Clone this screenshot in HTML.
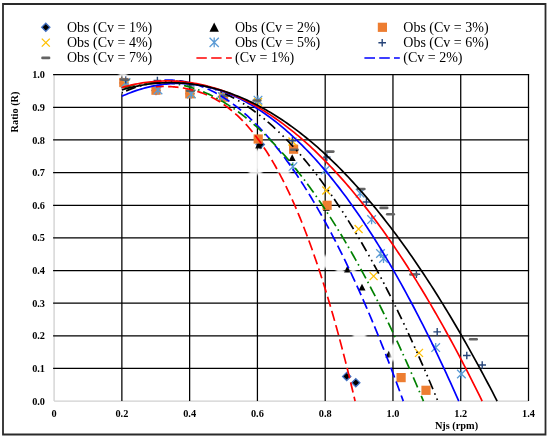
<!DOCTYPE html>
<html><head><meta charset="utf-8"><style>
html,body{margin:0;padding:0;background:#fff;}
svg{display:block;}
text{font-family:"Liberation Serif","Times New Roman",serif;}
.t{font-size:10.3px;font-weight:bold;fill:#000;}
.lg{font-size:14px;fill:#000;}
</style></head><body>
<svg width="550" height="438" viewBox="0 0 550 438">
<defs><filter id="wb" x="-50%" y="-50%" width="200%" height="200%"><feGaussianBlur stdDeviation="1"/></filter></defs>
<rect x="0" y="0" width="550" height="438" fill="#fff"/>
<path d="M3,4H545.5V434.5H3Z" fill="none" stroke="#2a2a2a" stroke-width="1.8"/>
<line x1="54.1" y1="74.70" x2="54.1" y2="401.1" stroke="#d9d9d9" stroke-width="1.6"/>
<line x1="54.1" y1="401.1" x2="528.50" y2="401.1" stroke="#d0d0d0" stroke-width="1.4"/>
<path d="M53.1,368.46H529.20M53.1,335.82H529.20M53.1,303.18H529.20M53.1,270.54H529.20M53.1,237.90H529.20M53.1,205.26H529.20M53.1,172.62H529.20M53.1,139.98H529.20M53.1,107.34H529.20M53.1,74.70H529.20M121.87,74.00V401.10M189.64,74.00V401.10M257.42,74.00V401.10M325.19,74.00V401.10M392.96,74.00V401.10M460.73,74.00V401.10M528.50,74.00V401.10" stroke="#000" stroke-width="1.25" fill="none"/>
<text class="t" x="45" y="404.6" text-anchor="end">0.0</text>
<text class="t" x="45" y="372.0" text-anchor="end">0.1</text>
<text class="t" x="45" y="339.3" text-anchor="end">0.2</text>
<text class="t" x="45" y="306.7" text-anchor="end">0.3</text>
<text class="t" x="45" y="274.0" text-anchor="end">0.4</text>
<text class="t" x="45" y="241.4" text-anchor="end">0.5</text>
<text class="t" x="45" y="208.8" text-anchor="end">0.6</text>
<text class="t" x="45" y="176.1" text-anchor="end">0.7</text>
<text class="t" x="45" y="143.5" text-anchor="end">0.8</text>
<text class="t" x="45" y="110.8" text-anchor="end">0.9</text>
<text class="t" x="45" y="78.2" text-anchor="end">1.0</text>
<text class="t" x="54.1" y="417" text-anchor="middle">0</text>
<text class="t" x="121.9" y="417" text-anchor="middle">0.2</text>
<text class="t" x="189.6" y="417" text-anchor="middle">0.4</text>
<text class="t" x="257.4" y="417" text-anchor="middle">0.6</text>
<text class="t" x="325.2" y="417" text-anchor="middle">0.8</text>
<text class="t" x="393.0" y="417" text-anchor="middle">1.0</text>
<text class="t" x="460.7" y="417" text-anchor="middle">1.2</text>
<text class="t" x="528.5" y="417" text-anchor="middle">1.4</text>
<text class="t" x="456.5" y="429" text-anchor="middle">Njs (rpm)</text>
<text class="t" transform="translate(18.4,112) rotate(-90)" text-anchor="middle">Ratio (R)</text>
<path d="M124.0,78.9L128.1,83.0L124.0,87.1L119.9,83.0Z" fill="#000" stroke="#4472c4" stroke-width="1.3"/><path d="M156.0,86.4L160.1,90.5L156.0,94.6L151.9,90.5Z" fill="#000" stroke="#4472c4" stroke-width="1.3"/><path d="M190.0,89.7L194.1,93.8L190.0,97.9L185.9,93.8Z" fill="#000" stroke="#4472c4" stroke-width="1.3"/><path d="M222.5,92.7L226.6,96.8L222.5,100.9L218.4,96.8Z" fill="#000" stroke="#4472c4" stroke-width="1.3"/><path d="M260.3,140.4L264.4,144.5L260.3,148.6L256.2,144.5Z" fill="#000" stroke="#4472c4" stroke-width="1.3"/><path d="M346.7,372.3L350.8,376.4L346.7,380.5L342.6,376.4Z" fill="#000" stroke="#4472c4" stroke-width="1.3"/><path d="M355.8,378.6L359.9,382.7L355.8,386.8L351.7,382.7Z" fill="#000" stroke="#4472c4" stroke-width="1.3"/><path d="M124.0,80.5L127.5,87.3L120.5,87.3Z" fill="#000"/><path d="M156.0,86.5L159.5,93.3L152.5,93.3Z" fill="#000"/><path d="M190.0,90.5L193.5,97.3L186.5,97.3Z" fill="#000"/><path d="M223.0,93.0L226.5,99.8L219.5,99.8Z" fill="#000"/><path d="M258.6,141.7L262.1,148.5L255.1,148.5Z" fill="#000"/><path d="M292.2,154.3L295.7,161.1L288.7,161.1Z" fill="#000"/><path d="M326.3,204.0L329.8,210.8L322.8,210.8Z" fill="#000"/><path d="M347.4,265.8L350.9,272.6L343.9,272.6Z" fill="#000"/><path d="M362.0,283.8L365.5,290.6L358.5,290.6Z" fill="#000"/><path d="M388.8,350.7L392.3,357.5L385.3,357.5Z" fill="#000"/><rect x="119.2" y="77.9" width="9.2" height="9.2" fill="#ed7d31"/><rect x="151.4" y="85.6" width="9.2" height="9.2" fill="#ed7d31"/><rect x="185.2" y="89.2" width="9.2" height="9.2" fill="#ed7d31"/><rect x="218.9" y="92.6" width="9.2" height="9.2" fill="#ed7d31"/><rect x="253.6" y="134.4" width="9.2" height="9.2" fill="#ed7d31"/><rect x="289.0" y="144.6" width="9.2" height="9.2" fill="#ed7d31"/><rect x="322.5" y="200.7" width="9.2" height="9.2" fill="#ed7d31"/><rect x="396.5" y="373.0" width="9.2" height="9.2" fill="#ed7d31"/><rect x="421.4" y="385.7" width="9.2" height="9.2" fill="#ed7d31"/><path d="M122.0,79.0L130.0,87.0M130.0,79.0L122.0,87.0" stroke="#ffc000" stroke-width="1.3" fill="none"/><path d="M187.3,90.0L195.3,98.0M195.3,90.0L187.3,98.0" stroke="#ffc000" stroke-width="1.3" fill="none"/><path d="M218.4,92.6L226.4,100.6M226.4,92.6L218.4,100.6" stroke="#ffc000" stroke-width="1.3" fill="none"/><path d="M254.0,98.0L262.0,106.0M262.0,98.0L254.0,106.0" stroke="#ffc000" stroke-width="1.3" fill="none"/><path d="M288.5,137.5L296.5,145.5M296.5,137.5L288.5,145.5" stroke="#ffc000" stroke-width="1.3" fill="none"/><path d="M322.3,186.5L330.3,194.5M330.3,186.5L322.3,194.5" stroke="#ffc000" stroke-width="1.3" fill="none"/><path d="M354.6,225.0L362.6,233.0M362.6,225.0L354.6,233.0" stroke="#ffc000" stroke-width="1.3" fill="none"/><path d="M369.6,272.1L377.6,280.1M377.6,272.1L369.6,280.1" stroke="#ffc000" stroke-width="1.3" fill="none"/><path d="M415.0,348.9L423.0,356.9M423.0,348.9L415.0,356.9" stroke="#ffc000" stroke-width="1.3" fill="none"/><path d="M121.7,78.2L130.3,86.8M130.3,78.2L121.7,86.8M126.0,77.9L126.0,87.1" stroke="#5b9bd5" stroke-width="1.3" fill="none"/><path d="M153.7,85.7L162.3,94.3M162.3,85.7L153.7,94.3M158.0,85.4L158.0,94.6" stroke="#5b9bd5" stroke-width="1.3" fill="none"/><path d="M187.0,89.7L195.6,98.3M195.6,89.7L187.0,98.3M191.3,89.4L191.3,98.6" stroke="#5b9bd5" stroke-width="1.3" fill="none"/><path d="M218.1,92.3L226.7,100.9M226.7,92.3L218.1,100.9M222.4,92.0L222.4,101.2" stroke="#5b9bd5" stroke-width="1.3" fill="none"/><path d="M253.7,95.9L262.3,104.5M262.3,95.9L253.7,104.5M258.0,95.6L258.0,104.8" stroke="#5b9bd5" stroke-width="1.3" fill="none"/><path d="M288.6,162.4L297.2,171.0M297.2,162.4L288.6,171.0M292.9,162.1L292.9,171.3" stroke="#5b9bd5" stroke-width="1.3" fill="none"/><path d="M321.1,165.7L329.7,174.3M329.7,165.7L321.1,174.3M325.4,165.4L325.4,174.6" stroke="#5b9bd5" stroke-width="1.3" fill="none"/><path d="M355.8,188.9L364.4,197.5M364.4,188.9L355.8,197.5M360.1,188.6L360.1,197.8" stroke="#5b9bd5" stroke-width="1.3" fill="none"/><path d="M367.3,215.3L375.9,223.9M375.9,215.3L367.3,223.9M371.6,215.0L371.6,224.2" stroke="#5b9bd5" stroke-width="1.3" fill="none"/><path d="M376.2,249.2L384.8,257.8M384.8,249.2L376.2,257.8M380.5,248.9L380.5,258.1" stroke="#5b9bd5" stroke-width="1.3" fill="none"/><path d="M379.2,254.2L387.8,262.8M387.8,254.2L379.2,262.8M383.5,253.9L383.5,263.1" stroke="#5b9bd5" stroke-width="1.3" fill="none"/><path d="M431.4,343.3L440.0,351.9M440.0,343.3L431.4,351.9M435.7,343.0L435.7,352.2" stroke="#5b9bd5" stroke-width="1.3" fill="none"/><path d="M457.1,369.7L465.7,378.3M465.7,369.7L457.1,378.3M461.4,369.4L461.4,378.6" stroke="#5b9bd5" stroke-width="1.3" fill="none"/><path d="M121.9,79.8L129.5,79.8M125.7,76.0L125.7,83.6" stroke="#264478" stroke-width="1.4" fill="none"/><path d="M153.6,80.5L161.2,80.5M157.4,76.7L157.4,84.3" stroke="#264478" stroke-width="1.4" fill="none"/><path d="M187.0,85.9L194.6,85.9M190.8,82.1L190.8,89.7" stroke="#264478" stroke-width="1.4" fill="none"/><path d="M288.6,140.7L296.2,140.7M292.4,136.9L292.4,144.5" stroke="#264478" stroke-width="1.4" fill="none"/><path d="M323.0,157.1L330.6,157.1M326.8,153.3L326.8,160.9" stroke="#264478" stroke-width="1.4" fill="none"/><path d="M362.6,202.0L370.2,202.0M366.4,198.2L366.4,205.8" stroke="#264478" stroke-width="1.4" fill="none"/><path d="M412.6,274.2L420.2,274.2M416.4,270.4L416.4,278.0" stroke="#264478" stroke-width="1.4" fill="none"/><path d="M433.4,331.9L441.0,331.9M437.2,328.1L437.2,335.7" stroke="#264478" stroke-width="1.4" fill="none"/><path d="M463.0,355.5L470.6,355.5M466.8,351.7L466.8,359.3" stroke="#264478" stroke-width="1.4" fill="none"/><path d="M478.4,365.0L486.0,365.0M482.2,361.2L482.2,368.8" stroke="#264478" stroke-width="1.4" fill="none"/><path d="M121.0,79.5L127.6,79.5" stroke="#636363" stroke-width="2.6" stroke-linecap="round" fill="none"/><path d="M187.2,90.8L193.8,90.8" stroke="#636363" stroke-width="2.6" stroke-linecap="round" fill="none"/><path d="M221.7,95.8L228.3,95.8" stroke="#636363" stroke-width="2.6" stroke-linecap="round" fill="none"/><path d="M253.7,100.5L260.3,100.5" stroke="#636363" stroke-width="2.6" stroke-linecap="round" fill="none"/><path d="M291.0,149.8L297.6,149.8" stroke="#636363" stroke-width="2.6" stroke-linecap="round" fill="none"/><path d="M326.8,151.6L333.4,151.6" stroke="#636363" stroke-width="2.6" stroke-linecap="round" fill="none"/><path d="M357.8,189.0L364.4,189.0" stroke="#636363" stroke-width="2.6" stroke-linecap="round" fill="none"/><path d="M380.6,207.9L387.2,207.9" stroke="#636363" stroke-width="2.6" stroke-linecap="round" fill="none"/><path d="M387.2,214.2L393.8,214.2" stroke="#636363" stroke-width="2.6" stroke-linecap="round" fill="none"/><path d="M410.4,274.5L417.0,274.5" stroke="#636363" stroke-width="2.6" stroke-linecap="round" fill="none"/><path d="M470.1,339.2L476.7,339.2" stroke="#636363" stroke-width="2.6" stroke-linecap="round" fill="none"/>
<g fill="#fff" fill-opacity="0.92" filter="url(#wb)"><rect x="254.5" y="149.5" width="6" height="21"/><rect x="322.5" y="255.5" width="5" height="12.5"/><rect x="249" y="170.5" width="13" height="4"/><rect x="278" y="170.5" width="12" height="4"/><rect x="353" y="333.5" width="13" height="4.5"/><rect x="390" y="344" width="6.5" height="17"/><rect x="336" y="268.3" width="8" height="4"/><rect x="350.5" y="268.3" width="5" height="4"/><rect x="119" y="73" width="8" height="3.5"/><rect x="119" y="88" width="6" height="5"/></g>
<polyline points="155.80,86.57 157.05,86.53 158.31,86.49 159.56,86.47 160.81,86.45 162.07,86.44 163.32,86.44 164.57,86.45 165.83,86.47 167.08,86.50 168.33,86.54 169.59,86.60 170.84,86.66 172.09,86.74 173.35,86.83 174.60,86.93 175.85,87.05 177.11,87.18 178.36,87.32 179.61,87.47 180.87,87.64 182.12,87.83 183.37,88.03 184.63,88.25 185.88,88.48 187.13,88.72 188.39,88.99 189.64,89.27 190.89,89.56 192.15,89.88 193.40,90.21 194.65,90.56 195.91,90.93 197.16,91.31 198.41,91.72 199.67,92.15 200.92,92.59 202.17,93.05 203.43,93.54 204.68,94.04 205.93,94.57 207.19,95.12 208.44,95.68 209.69,96.28 210.95,96.89 212.20,97.52 213.45,98.18 214.71,98.86 215.96,99.57 217.21,100.30 218.47,101.05 219.72,101.83 220.97,102.63 222.23,103.46 223.48,104.31 224.73,105.19 225.99,106.09 227.24,107.02 228.49,107.98 229.75,108.97 231.00,109.98 232.25,111.02 233.51,112.09 234.76,113.19 236.01,114.31 237.27,115.47 238.52,116.65 239.77,117.87 241.03,119.11 242.28,120.39 243.53,121.69 244.79,123.03 246.04,124.40 247.30,125.80 248.55,127.23 249.80,128.69 251.06,130.19 252.31,131.72 253.56,133.28 254.82,134.88 256.07,136.51 257.32,138.18 258.58,139.88 259.83,141.62 261.08,143.39 262.34,145.19 263.59,147.04 264.84,148.91 266.10,150.83 267.35,152.78 268.60,154.77 269.86,156.80 271.11,158.87 272.36,160.97 273.62,163.11 274.87,165.29 276.12,167.52 277.38,169.78 278.63,172.08 279.88,174.42 281.14,176.80 282.39,179.22 283.64,181.69 284.90,184.19 286.15,186.74 287.40,189.33 288.66,191.96 289.91,194.64 291.16,197.36 292.42,200.12 293.67,202.92 294.92,205.77 296.18,208.67 297.43,211.61 298.68,214.60 299.94,217.63 301.19,220.70 302.44,223.83 303.70,227.00 304.95,230.21 306.20,233.48 307.46,236.79 308.71,240.15 309.96,243.55 311.22,247.01 312.47,250.51 313.72,254.07 314.98,257.67 316.23,261.32 317.48,265.03 318.74,268.78 319.99,272.59 321.24,276.44 322.50,280.35 323.75,284.31 325.00,288.32 326.26,292.38 327.51,296.50 328.76,300.67 330.02,304.89 331.27,309.17 332.52,313.50 333.78,317.89 335.03,322.33 336.28,326.82 337.54,331.38 338.79,335.98 340.04,340.65 341.30,345.37 342.55,350.14 343.80,354.98 345.06,359.87 346.31,364.81 347.56,369.82 348.82,374.89 350.07,380.01 351.32,385.19 352.58,390.44 353.83,395.74 355.08,401.10" fill="none" stroke="#ff0000" stroke-width="1.7" stroke-dasharray="10.4 4.4" stroke-dashoffset="2.45"/>
<polyline points="160.00,80.49 161.53,80.37 163.06,80.26 164.59,80.19 166.12,80.14 167.65,80.12 169.18,80.13 170.71,80.16 172.24,80.22 173.77,80.30 175.30,80.41 176.83,80.55 178.36,80.71 179.89,80.90 181.42,81.12 182.95,81.36 184.48,81.63 186.01,81.93 187.54,82.25 189.07,82.60 190.60,82.98 192.13,83.38 193.66,83.81 195.19,84.26 196.72,84.75 198.25,85.25 199.78,85.79 201.31,86.35 202.84,86.94 204.37,87.56 205.90,88.20 207.43,88.87 208.96,89.57 210.49,90.29 212.02,91.04 213.55,91.81 215.08,92.62 216.61,93.45 218.14,94.30 219.67,95.19 221.20,96.10 222.73,97.04 224.26,98.00 225.79,98.99 227.32,100.01 228.85,101.06 230.38,102.13 231.91,103.23 233.44,104.35 234.97,105.51 236.50,106.69 238.03,107.90 239.56,109.13 241.09,110.39 242.62,111.68 244.15,113.00 245.68,114.34 247.21,115.71 248.74,117.11 250.27,118.53 251.80,119.99 253.33,121.47 254.86,122.97 256.39,124.51 257.92,126.07 259.45,127.66 260.98,129.27 262.51,130.91 264.04,132.58 265.57,134.28 267.10,136.01 268.63,137.76 270.16,139.54 271.69,141.35 273.22,143.18 274.75,145.04 276.28,146.93 277.81,148.85 279.34,150.79 280.87,152.77 282.40,154.77 283.93,156.79 285.46,158.85 286.99,160.93 288.52,163.04 290.05,165.18 291.58,167.34 293.11,169.54 294.64,171.76 296.17,174.01 297.70,176.28 299.23,178.58 300.76,180.92 302.29,183.28 303.82,185.66 305.35,188.08 306.88,190.52 308.41,192.99 309.94,195.49 311.47,198.01 313.00,200.57 314.53,203.15 316.06,205.76 317.59,208.39 319.12,211.06 320.65,213.75 322.18,216.47 323.71,219.22 325.24,222.00 326.77,224.81 328.30,227.64 329.83,230.50 331.36,233.39 332.89,236.31 334.42,239.25 335.95,242.22 337.48,245.23 339.01,248.26 340.54,251.31 342.07,254.40 343.60,257.51 345.13,260.65 346.66,263.83 348.19,267.02 349.72,270.25 351.25,273.51 352.78,276.79 354.31,280.10 355.84,283.44 357.37,286.81 358.90,290.21 360.43,293.63 361.96,297.08 363.49,300.57 365.02,304.08 366.55,307.61 368.08,311.18 369.61,314.78 371.14,318.40 372.67,322.05 374.20,325.73 375.73,329.44 377.26,333.18 378.79,336.95 380.32,340.74 381.85,344.56 383.38,348.42 384.91,352.30 386.44,356.21 387.97,360.14 389.50,364.11 391.03,368.11 392.56,372.13 394.09,376.18 395.62,380.26 397.15,384.37 398.68,388.51 400.21,392.68 401.74,396.88 403.27,401.10" fill="none" stroke="#0000ff" stroke-width="1.7" stroke-dasharray="10.4 4.4" stroke-dashoffset="10.35"/>
<polyline points="121.90,88.31 123.80,87.70 125.69,87.13 127.59,86.58 129.49,86.07 131.38,85.60 133.28,85.15 135.18,84.74 137.07,84.37 138.97,84.02 140.86,83.71 142.76,83.43 144.66,83.19 146.55,82.97 148.45,82.79 150.35,82.65 152.24,82.53 154.14,82.45 156.04,82.41 157.93,82.39 159.83,82.41 161.73,82.46 163.62,82.54 165.52,82.66 167.41,82.81 169.31,82.99 171.21,83.21 173.10,83.45 175.00,83.73 176.90,84.05 178.79,84.39 180.69,84.77 182.59,85.18 184.48,85.63 186.38,86.11 188.28,86.62 190.17,87.16 192.07,87.74 193.97,88.34 195.86,88.99 197.76,89.66 199.65,90.37 201.55,91.10 203.45,91.88 205.34,92.68 207.24,93.52 209.14,94.39 211.03,95.29 212.93,96.23 214.83,97.19 216.72,98.20 218.62,99.23 220.52,100.29 222.41,101.39 224.31,102.52 226.21,103.69 228.10,104.88 230.00,106.11 231.89,107.37 233.79,108.67 235.69,109.99 237.58,111.35 239.48,112.75 241.38,114.17 243.27,115.63 245.17,117.12 247.07,118.64 248.96,120.19 250.86,121.78 252.76,123.40 254.65,125.05 256.55,126.73 258.44,128.45 260.34,130.20 262.24,131.98 264.13,133.79 266.03,135.64 267.93,137.52 269.82,139.43 271.72,141.37 273.62,143.35 275.51,145.36 277.41,147.40 279.31,149.47 281.20,151.58 283.10,153.72 285.00,155.89 286.89,158.09 288.79,160.32 290.68,162.59 292.58,164.89 294.48,167.22 296.37,169.58 298.27,171.98 300.17,174.41 302.06,176.87 303.96,179.36 305.86,181.89 307.75,184.45 309.65,187.04 311.55,189.66 313.44,192.31 315.34,195.00 317.23,197.72 319.13,200.47 321.03,203.25 322.92,206.07 324.82,208.91 326.72,211.79 328.61,214.71 330.51,217.65 332.41,220.63 334.30,223.63 336.20,226.67 338.10,229.75 339.99,232.85 341.89,235.99 343.79,239.16 345.68,242.36 347.58,245.59 349.47,248.85 351.37,252.15 353.27,255.48 355.16,258.84 357.06,262.23 358.96,265.66 360.85,269.12 362.75,272.60 364.65,276.13 366.54,279.68 368.44,283.26 370.34,286.88 372.23,290.53 374.13,294.21 376.03,297.92 377.92,301.67 379.82,305.44 381.71,309.25 383.61,313.09 385.51,316.97 387.40,320.87 389.30,324.81 391.20,328.77 393.09,332.77 394.99,336.81 396.89,340.87 398.78,344.96 400.68,349.09 402.58,353.25 404.47,357.44 406.37,361.66 408.26,365.92 410.16,370.21 412.06,374.52 413.95,378.87 415.85,383.26 417.75,387.67 419.64,392.11 421.54,396.59 423.44,401.10" fill="none" stroke="#008000" stroke-width="1.7" stroke-dasharray="10.8 3.8 1.6 3.9" stroke-dashoffset="17.35"/>
<polyline points="121.90,92.67 123.89,91.79 125.87,90.95 127.86,90.15 129.85,89.38 131.84,88.64 133.82,87.94 135.81,87.28 137.80,86.65 139.79,86.05 141.77,85.49 143.76,84.96 145.75,84.47 147.73,84.02 149.72,83.60 151.71,83.21 153.70,82.86 155.68,82.54 157.67,82.26 159.66,82.02 161.64,81.81 163.63,81.63 165.62,81.49 167.61,81.39 169.59,81.32 171.58,81.28 173.57,81.28 175.56,81.32 177.54,81.39 179.53,81.49 181.52,81.63 183.50,81.81 185.49,82.02 187.48,82.27 189.47,82.55 191.45,82.87 193.44,83.22 195.43,83.61 197.42,84.03 199.40,84.49 201.39,84.98 203.38,85.51 205.36,86.08 207.35,86.68 209.34,87.32 211.33,87.99 213.31,88.69 215.30,89.44 217.29,90.21 219.27,91.03 221.26,91.88 223.25,92.76 225.24,93.68 227.22,94.64 229.21,95.63 231.20,96.66 233.19,97.72 235.17,98.82 237.16,99.95 239.15,101.12 241.13,102.33 243.12,103.57 245.11,104.84 247.10,106.16 249.08,107.50 251.07,108.89 253.06,110.31 255.05,111.76 257.03,113.26 259.02,114.78 261.01,116.35 262.99,117.95 264.98,119.58 266.97,121.25 268.96,122.96 270.94,124.70 272.93,126.48 274.92,128.30 276.90,130.15 278.89,132.03 280.88,133.96 282.87,135.92 284.85,137.91 286.84,139.94 288.83,142.01 290.82,144.11 292.80,146.25 294.79,148.43 296.78,150.64 298.76,152.89 300.75,155.17 302.74,157.49 304.73,159.85 306.71,162.24 308.70,164.67 310.69,167.14 312.68,169.64 314.66,172.18 316.65,174.75 318.64,177.36 320.62,180.01 322.61,182.69 324.60,185.41 326.59,188.17 328.57,190.96 330.56,193.79 332.55,196.66 334.53,199.56 336.52,202.50 338.51,205.47 340.50,208.48 342.48,211.53 344.47,214.62 346.46,217.74 348.45,220.89 350.43,224.09 352.42,227.32 354.41,230.59 356.39,233.89 358.38,237.23 360.37,240.61 362.36,244.02 364.34,247.47 366.33,250.96 368.32,254.49 370.31,258.05 372.29,261.64 374.28,265.28 376.27,268.95 378.25,272.66 380.24,276.40 382.23,280.19 384.22,284.00 386.20,287.86 388.19,291.75 390.18,295.68 392.16,299.65 394.15,303.65 396.14,307.69 398.13,311.77 400.11,315.88 402.10,320.03 404.09,324.22 406.08,328.45 408.06,332.71 410.05,337.01 412.04,341.34 414.02,345.72 416.01,350.13 418.00,354.58 419.99,359.06 421.97,363.58 423.96,368.14 425.95,372.74 427.94,377.37 429.92,382.04 431.91,386.75 433.90,391.50 435.88,396.28 437.87,401.10" fill="none" stroke="#000000" stroke-width="1.7" stroke-dasharray="10.2 4.4 1.6 4.1 1.6 3.65" stroke-dashoffset="20.92"/>
<polyline points="121.90,96.27 124.02,95.32 126.14,94.41 128.26,93.54 130.37,92.71 132.49,91.91 134.61,91.14 136.73,90.42 138.85,89.72 140.97,89.07 143.09,88.45 145.21,87.87 147.32,87.32 149.44,86.81 151.56,86.34 153.68,85.90 155.80,85.50 157.92,85.13 160.04,84.80 162.16,84.51 164.27,84.25 166.39,84.03 168.51,83.84 170.63,83.69 172.75,83.58 174.87,83.51 176.99,83.47 179.11,83.46 181.22,83.49 183.34,83.56 185.46,83.67 187.58,83.81 189.70,83.98 191.82,84.20 193.94,84.45 196.06,84.73 198.17,85.05 200.29,85.41 202.41,85.81 204.53,86.24 206.65,86.70 208.77,87.21 210.89,87.74 213.01,88.32 215.12,88.93 217.24,89.58 219.36,90.26 221.48,90.98 223.60,91.74 225.72,92.53 227.84,93.36 229.96,94.22 232.07,95.13 234.19,96.06 236.31,97.04 238.43,98.05 240.55,99.09 242.67,100.17 244.79,101.29 246.91,102.45 249.02,103.64 251.14,104.87 253.26,106.13 255.38,107.43 257.50,108.76 259.62,110.14 261.74,111.54 263.86,112.99 265.97,114.47 268.09,115.99 270.21,117.54 272.33,119.13 274.45,120.76 276.57,122.42 278.69,124.12 280.80,125.85 282.92,127.62 285.04,129.43 287.16,131.27 289.28,133.15 291.40,135.07 293.52,137.02 295.64,139.01 297.75,141.03 299.87,143.09 301.99,145.19 304.11,147.32 306.23,149.49 308.35,151.70 310.47,153.94 312.59,156.22 314.70,158.53 316.82,160.88 318.94,163.27 321.06,165.69 323.18,168.15 325.30,170.65 327.42,173.18 329.54,175.75 331.65,178.36 333.77,181.00 335.89,183.68 338.01,186.39 340.13,189.14 342.25,191.93 344.37,194.75 346.49,197.61 348.60,200.50 350.72,203.43 352.84,206.40 354.96,209.41 357.08,212.45 359.20,215.52 361.32,218.64 363.44,221.78 365.55,224.97 367.67,228.19 369.79,231.45 371.91,234.75 374.03,238.08 376.15,241.44 378.27,244.85 380.39,248.29 382.50,251.76 384.62,255.27 386.74,258.82 388.86,262.41 390.98,266.03 393.10,269.69 395.22,273.38 397.34,277.11 399.45,280.88 401.57,284.68 403.69,288.52 405.81,292.40 407.93,296.31 410.05,300.26 412.17,304.24 414.29,308.26 416.40,312.32 418.52,316.41 420.64,320.54 422.76,324.71 424.88,328.91 427.00,333.15 429.12,337.43 431.24,341.74 433.35,346.09 435.47,350.47 437.59,354.89 439.71,359.35 441.83,363.84 443.95,368.37 446.07,372.94 448.18,377.54 450.30,382.18 452.42,386.86 454.54,391.57 456.66,396.32 458.78,401.10" fill="none" stroke="#0000ff" stroke-width="1.7"/>
<polyline points="121.90,87.54 124.17,86.90 126.43,86.29 128.70,85.71 130.96,85.17 133.23,84.66 135.49,84.18 137.76,83.74 140.03,83.33 142.29,82.95 144.56,82.60 146.82,82.29 149.09,82.01 151.35,81.76 153.62,81.54 155.89,81.36 158.15,81.21 160.42,81.09 162.68,81.01 164.95,80.96 167.21,80.94 169.48,80.95 171.75,81.00 174.01,81.08 176.28,81.19 178.54,81.34 180.81,81.51 183.08,81.72 185.34,81.97 187.61,82.24 189.87,82.55 192.14,82.90 194.40,83.27 196.67,83.68 198.94,84.12 201.20,84.59 203.47,85.10 205.73,85.64 208.00,86.21 210.26,86.82 212.53,87.46 214.80,88.13 217.06,88.83 219.33,89.57 221.59,90.34 223.86,91.15 226.12,91.98 228.39,92.85 230.66,93.75 232.92,94.69 235.19,95.66 237.45,96.66 239.72,97.69 241.98,98.76 244.25,99.86 246.52,101.00 248.78,102.16 251.05,103.36 253.31,104.60 255.58,105.86 257.84,107.16 260.11,108.49 262.38,109.86 264.64,111.26 266.91,112.69 269.17,114.16 271.44,115.65 273.71,117.19 275.97,118.75 278.24,120.35 280.50,121.98 282.77,123.64 285.03,125.34 287.30,127.07 289.57,128.83 291.83,130.63 294.10,132.46 296.36,134.33 298.63,136.22 300.89,138.15 303.16,140.12 305.43,142.11 307.69,144.14 309.96,146.21 312.22,148.30 314.49,150.43 316.75,152.60 319.02,154.79 321.29,157.02 323.55,159.29 325.82,161.58 328.08,163.91 330.35,166.28 332.61,168.67 334.88,171.10 337.15,173.57 339.41,176.06 341.68,178.59 343.94,181.16 346.21,183.76 348.47,186.39 350.74,189.05 353.01,191.75 355.27,194.48 357.54,197.24 359.80,200.04 362.07,202.87 364.34,205.74 366.60,208.64 368.87,211.57 371.13,214.54 373.40,217.54 375.66,220.57 377.93,223.63 380.20,226.73 382.46,229.87 384.73,233.04 386.99,236.24 389.26,239.47 391.52,242.74 393.79,246.04 396.06,249.37 398.32,252.74 400.59,256.15 402.85,259.58 405.12,263.05 407.38,266.55 409.65,270.09 411.92,273.66 414.18,277.27 416.45,280.90 418.71,284.58 420.98,288.28 423.24,292.02 425.51,295.79 427.78,299.60 430.04,303.44 432.31,307.31 434.57,311.22 436.84,315.16 439.10,319.14 441.37,323.15 443.64,327.19 445.90,331.27 448.17,335.38 450.43,339.52 452.70,343.70 454.97,347.91 457.23,352.16 459.50,356.44 461.76,360.75 464.03,365.10 466.29,369.48 468.56,373.90 470.83,378.35 473.09,382.83 475.36,387.35 477.62,391.90 479.89,396.48 482.15,401.10" fill="none" stroke="#ff0000" stroke-width="1.7"/>
<polyline points="121.90,89.83 124.26,89.16 126.62,88.52 128.98,87.92 131.34,87.34 133.70,86.80 136.06,86.30 138.42,85.82 140.78,85.38 143.14,84.98 145.50,84.61 147.86,84.27 150.22,83.96 152.58,83.69 154.94,83.45 157.30,83.24 159.66,83.07 162.02,82.93 164.38,82.83 166.74,82.76 169.10,82.72 171.46,82.71 173.82,82.74 176.18,82.80 178.54,82.90 180.90,83.03 183.26,83.19 185.62,83.38 187.98,83.61 190.34,83.87 192.70,84.17 195.06,84.50 197.42,84.86 199.78,85.25 202.14,85.68 204.50,86.14 206.86,86.64 209.22,87.17 211.58,87.73 213.94,88.32 216.30,88.95 218.66,89.61 221.02,90.31 223.38,91.04 225.74,91.80 228.10,92.59 230.46,93.42 232.82,94.28 235.18,95.18 237.54,96.11 239.90,97.07 242.26,98.06 244.62,99.09 246.98,100.15 249.34,101.25 251.70,102.38 254.06,103.54 256.42,104.73 258.78,105.96 261.14,107.22 263.50,108.52 265.86,109.85 268.22,111.21 270.58,112.60 272.94,114.03 275.30,115.49 277.66,116.98 280.02,118.51 282.38,120.07 284.74,121.67 287.10,123.30 289.46,124.96 291.82,126.65 294.18,128.38 296.54,130.14 298.90,131.93 301.26,133.76 303.62,135.62 305.98,137.51 308.34,139.44 310.70,141.40 313.06,143.39 315.42,145.42 317.78,147.48 320.14,149.57 322.50,151.70 324.86,153.86 327.22,156.05 329.58,158.28 331.94,160.53 334.30,162.83 336.66,165.15 339.02,167.51 341.38,169.90 343.74,172.33 346.10,174.79 348.46,177.28 350.82,179.80 353.18,182.36 355.54,184.95 357.90,187.58 360.26,190.23 362.62,192.93 364.98,195.65 367.34,198.41 369.70,201.20 372.06,204.02 374.42,206.88 376.78,209.77 379.14,212.69 381.50,215.65 383.86,218.64 386.22,221.66 388.58,224.71 390.94,227.80 393.30,230.93 395.66,234.08 398.02,237.27 400.38,240.49 402.74,243.75 405.10,247.03 407.46,250.35 409.82,253.71 412.18,257.10 414.54,260.52 416.90,263.97 419.26,267.46 421.62,270.98 423.98,274.53 426.34,278.12 428.70,281.74 431.06,285.39 433.42,289.07 435.78,292.79 438.14,296.54 440.50,300.33 442.86,304.15 445.22,308.00 447.58,311.88 449.94,315.80 452.30,319.75 454.66,323.74 457.02,327.75 459.38,331.80 461.74,335.88 464.10,340.00 466.46,344.15 468.83,348.33 471.19,352.55 473.55,356.80 475.91,361.08 478.27,365.39 480.63,369.74 482.99,374.12 485.35,378.53 487.71,382.98 490.07,387.46 492.43,391.97 494.79,396.52 497.15,401.10" fill="none" stroke="#000000" stroke-width="1.7"/>
<path d="M45.8,23.2L49.9,27.3L45.8,31.4L41.7,27.3Z" fill="#000" stroke="#4472c4" stroke-width="1.3"/><text class="lg" x="67" y="32.2">Obs (Cv = 1%)</text><path d="M214.2,22.6L218.9,31.8L209.5,31.8Z" fill="#000"/><text class="lg" x="235" y="32.2">Obs (Cv = 2%)</text><rect x="377.8" y="22.7" width="9.2" height="9.2" fill="#ed7d31"/><text class="lg" x="403.3" y="32.2">Obs (Cv = 3%)</text><path d="M41.8,38.6L49.8,46.6M49.8,38.6L41.8,46.6" stroke="#ffc000" stroke-width="1.3" fill="none"/><text class="lg" x="67" y="47.1">Obs (Cv = 4%)</text><path d="M209.6,37.8L218.8,47.0M218.8,37.8L209.6,47.0M214.2,37.5L214.2,47.3" stroke="#5b9bd5" stroke-width="1.3" fill="none"/><text class="lg" x="235" y="47.1">Obs (Cv = 5%)</text><path d="M378.4,42.8L386.0,42.8M382.2,39.0L382.2,46.6" stroke="#264478" stroke-width="1.4" fill="none"/><text class="lg" x="403.3" y="47.1">Obs (Cv = 6%)</text><path d="M42.5,57.9L49.1,57.9" stroke="#636363" stroke-width="2.6" stroke-linecap="round" fill="none"/><text class="lg" x="67" y="62.1">Obs (Cv = 7%)</text><line x1="196.4" y1="58" x2="231.8" y2="58" stroke="#f00" stroke-width="1.7" stroke-dasharray="10.4 4.4"/><text class="lg" x="235" y="62.1">(Cv = 1%)</text><line x1="364.4" y1="58" x2="399.8" y2="58" stroke="#00f" stroke-width="1.7" stroke-dasharray="10.6 4.2"/><text class="lg" x="403.3" y="62.1">(Cv = 2%)</text>
</svg>
</body></html>
